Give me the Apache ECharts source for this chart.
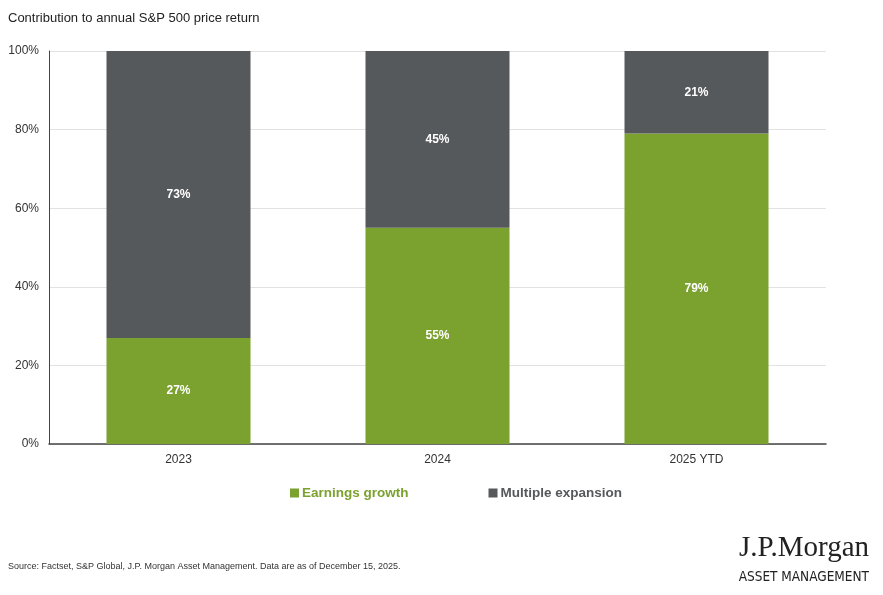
<!DOCTYPE html>
<html>
<head>
<meta charset="utf-8">
<script src="https://cdn.jsdelivr.net/npm/echarts@6/dist/echarts.min.js"></script>
<style>
  html, body { margin: 0; padding: 0; background: #fff; }
  #chart { width: 883px; height: 595px; }
</style>
</head>
<body>
<div id="chart"></div>
<script>
const categories = ['2023', '2024', '2025 YTD']
const earningsGrowth = [27, 55, 79]
const multipleExpansion = [73, 45, 21]
const yTicks = [0, 20, 40, 60, 80, 100]

const GREEN = '#7ba12f'
const GRAY = '#56595b'

const chart = echarts.init(document.getElementById('chart'))

const barLabel = {
  show: true,
  position: 'inside',
  color: '#fff',
  fontWeight: 'bold',
  fontSize: 12,
  fontFamily: 'Liberation Sans, Arial, sans-serif',
  formatter: p => p.value + '%'
}

chart.setOption({
  animation: false,
  textStyle: { fontFamily: 'Liberation Sans, Arial, sans-serif' },
  title: {
    text: 'Contribution to annual S&P 500 price return',
    left: 3,
    top: 7,
    textStyle: { fontSize: 13, fontWeight: 'normal', color: '#222' }
  },
  legend: {
    top: 481,
    left: 285,
    itemGap: 80,
    itemWidth: 9,
    itemHeight: 9,
    icon: 'rect',
    data: [
      { name: 'Earnings growth', textStyle: { color: GREEN } },
      { name: 'Multiple expansion', textStyle: { color: GRAY } }
    ],
    textStyle: { fontSize: 13.5, fontWeight: 'bold', padding: [0, 0, 0, -2] }
  },
  grid: { left: 49, right: 57, top: 51, bottom: 151 },
  xAxis: {
    type: 'category',
    data: categories,
    axisLine: { lineStyle: { color: '#444', width: 1.5 } },
    axisTick: { show: false },
    axisLabel: { color: '#333', fontSize: 12, margin: 10 }
  },
  yAxis: {
    type: 'value',
    min: yTicks[0],
    max: yTicks[yTicks.length - 1],
    interval: 20,
    axisLine: { show: true, lineStyle: { color: '#444' } },
    axisTick: { show: false },
    splitLine: { lineStyle: { color: '#e2e2e2' } },
    axisLabel: { color: '#333', fontSize: 12, margin: 10, formatter: v => v + '%' }
  },
  series: [
    {
      name: 'Earnings growth',
      type: 'bar',
      stack: 'total',
      barWidth: '55.6%',
      itemStyle: { color: GREEN },
      label: barLabel,
      data: earningsGrowth
    },
    {
      name: 'Multiple expansion',
      type: 'bar',
      stack: 'total',
      itemStyle: { color: GRAY },
      label: barLabel,
      data: multipleExpansion
    }
  ],
  graphic: [
    {
      type: 'text',
      left: 8,
      top: 562,
      style: {
        text: 'Source: Factset, S&P Global, J.P. Morgan Asset Management. Data are as of December 15, 2025.',
        fontSize: 9,
        fill: '#333',
        fontFamily: 'Liberation Sans, Arial, sans-serif'
      }
    },
    {
      type: 'text',
      right: 14,
      top: 534,
      style: {
        text: 'J.P.Morgan',
        fontSize: 29,
        fill: '#222',
        fontFamily: 'Liberation Serif, DejaVu Serif, serif'
      }
    },
    {
      type: 'text',
      right: 14,
      top: 570,
      style: {
        text: 'ASSET MANAGEMENT',
        fontSize: 13.5,
        fill: '#222',
        fontFamily: 'DejaVu Sans Condensed, Liberation Sans Narrow, sans-serif'
      }
    }
  ]
})
</script>
</body>
</html>
